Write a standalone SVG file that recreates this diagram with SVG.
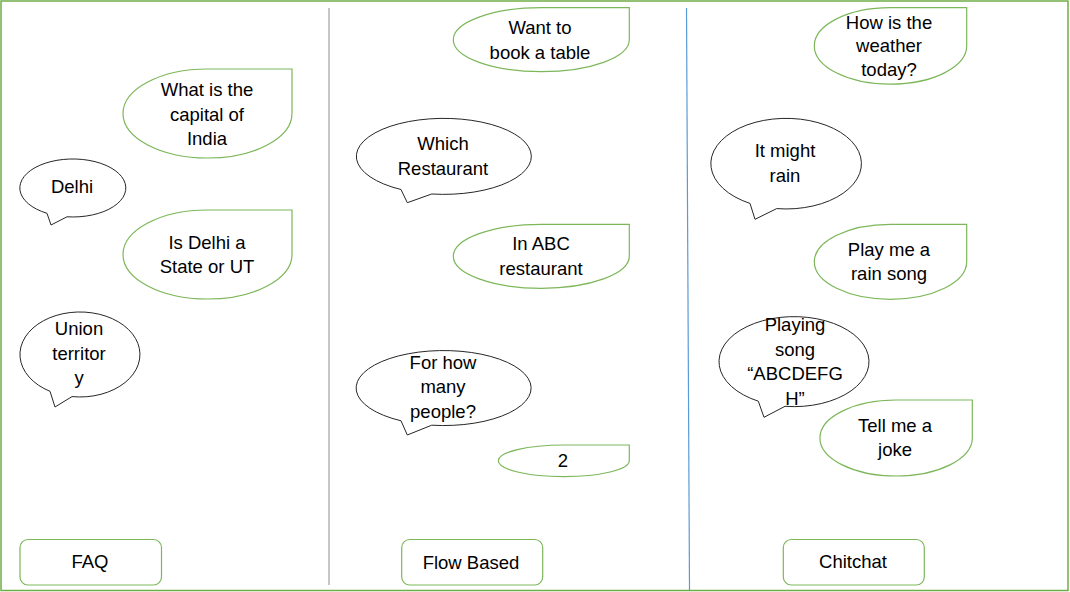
<svg xmlns="http://www.w3.org/2000/svg" width="1070" height="592" viewBox="0 0 1070 592">
<style>
.frame{fill:#fff;stroke:#70AD47;stroke-width:1.5}
.tear{fill:#fff;stroke:#7DB75A;stroke-width:1.2}
.call{fill:#fff;stroke:#262626;stroke-width:1}
.lab{fill:#fff;stroke:#7DB75A;stroke-width:1.2}
text{font-family:"Liberation Sans",Arial,sans-serif;font-size:18.5px;fill:#000;text-anchor:middle}
</style>
<rect class="frame" x="1" y="1" width="1067" height="589.5"/>
<g id="dividers">
<line x1="329" y1="8" x2="329" y2="585" stroke="#8C8C8C" stroke-width="1"/>
<line x1="686.5" y1="8" x2="689.5" y2="590" stroke="#5B9BD5" stroke-width="1.2"/>
</g>
<g id="connectors"></g>

<g id="faq-q1">
<path class="tear" d="M207.5,69 L292,69 L292,113.5 A84.5,44.5 0 1 1 207.5,69 Z"/>
<text x="207" y="96">What is the</text><text x="207" y="120.5">capital of</text><text x="207" y="145">India</text>
</g>
<g id="faq-a1">
<path class="call" d="M47,213.3 L51,225 L67,216.8 A53,29 0 1 0 47,213.3 Z"/>
<text x="72" y="193">Delhi</text>
</g>
<g id="faq-q2">
<path class="tear" d="M207.5,210 L292,210 L292,254.5 A84.5,44.5 0 1 1 207.5,210 Z"/>
<text x="207" y="248.5">Is Delhi a</text><text x="207" y="273">State or UT</text>
</g>
<g id="faq-a2">
<path class="call" d="M50,391.3 L55,407 L72,396.6 A60,42.5 0 1 0 50,391.3 Z"/>
<text x="79" y="335">Union</text><text x="79" y="359.5">territor</text><text x="79" y="384">y</text>
</g>
<g id="faq-label">
<rect class="lab" x="20" y="539.5" width="141.5" height="45.5" rx="8"/>
<text x="90" y="568">FAQ</text>
</g>

<g id="flow-q1">
<path class="tear" d="M541.3,7.7 L629.3,7.7 L629.3,39.7 A88,32 0 1 1 541.3,7.7 Z"/>
<text x="540" y="34">Want to</text><text x="540" y="58.5">book a table</text>
</g>
<g id="flow-a1">
<path class="call" d="M401,189.5 L407.3,202.7 L431.7,194 A87.5,38 0 1 0 401,189.5 Z"/>
<text x="443" y="150">Which</text><text x="443" y="175">Restaurant</text>
</g>
<g id="flow-q2">
<path class="tear" d="M541.3,224.3 L629.3,224.3 L629.3,256.3 A88,32 0 1 1 541.3,224.3 Z"/>
<text x="541" y="250">In ABC</text><text x="541" y="275">restaurant</text>
</g>
<g id="flow-a2">
<path class="call" d="M401,420.8 L407.3,435 L431.7,425.2 A87.5,37.5 0 1 0 401,420.8 Z"/>
<text x="443" y="368.5">For how</text><text x="443" y="393">many</text><text x="443" y="417.5">people?</text>
</g>
<g id="flow-q3">
<path class="tear" d="M563.8,445 L629.3,445 L629.3,460.8 A65.5,15.8 0 1 1 563.8,445 Z"/>
<text x="563" y="467">2</text>
</g>
<g id="flow-label">
<rect class="lab" x="401.7" y="539.5" width="141" height="45.5" rx="8"/>
<text x="471" y="568.5">Flow Based</text>
</g>

<g id="chit-q1">
<path class="tear" d="M890.5,7.7 L966.7,7.7 L966.7,45.8 A76.2,38.2 0 1 1 890.5,7.7 Z"/>
<text x="889" y="28.5">How is the</text><text x="889" y="52">weather</text><text x="889" y="76">today?</text>
</g>
<g id="chit-a1">
<path class="call" d="M750,203.4 L755,219.3 L776.7,208.6 A75.3,45.3 0 1 0 750,203.4 Z"/>
<text x="785" y="157">It might</text><text x="785" y="181.5">rain</text>
</g>
<g id="chit-q2">
<path class="tear" d="M890.5,224.3 L966.7,224.3 L966.7,261.8 A76.2,37.5 0 1 1 890.5,224.3 Z"/>
<text x="889" y="255.5">Play me a</text><text x="889" y="280">rain song</text>
</g>
<g id="chit-a2">
<path class="call" d="M758.3,401.2 L764,417.3 L785,406.3 A75,45 0 1 0 758.3,401.2 Z"/>
<text x="795" y="331">Playing</text><text x="795" y="355.5">song</text><text x="795" y="380">“ABCDEFG</text><text x="795" y="404.5">H”</text>
</g>
<g id="chit-q3">
<path class="tear" d="M896.2,400 L972.3,400 L972.3,438 A76.2,38 0 1 1 896.2,400 Z"/>
<text x="895" y="431.5">Tell me a</text><text x="895" y="456">joke</text>
</g>
<g id="chit-label">
<rect class="lab" x="783.3" y="539.5" width="141" height="45.5" rx="8"/>
<text x="853" y="568">Chitchat</text>
</g>
</svg>
